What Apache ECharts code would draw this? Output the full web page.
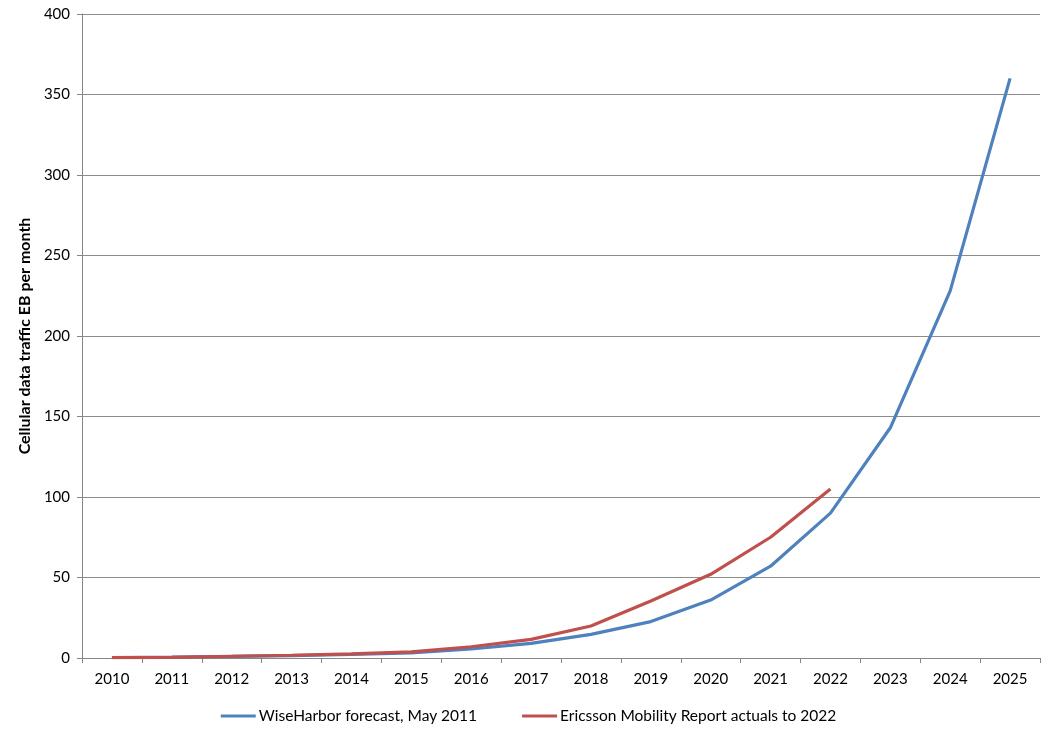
<!DOCTYPE html>
<html>
<head>
<meta charset="utf-8">
<script src="https://cdn.jsdelivr.net/npm/echarts@6/dist/echarts.min.js"></script>
<style>
html,body{margin:0;padding:0;background:#fff;}
#c{width:1057px;height:742px;}
</style>
</head>
<body>
<div id="c"></div>
<script>
const years = ['2010','2011','2012','2013','2014','2015','2016','2017','2018','2019','2020','2021','2022','2023','2024','2025'];
const wiseHarbor = [0.3, 0.6, 1.0, 1.5, 2.2, 3.2, 5.6, 9.1, 14.7, 22.6, 36, 57, 90, 143, 228, 360];
const ericsson = [0.2, 0.4, 1.1, 1.7, 2.6, 3.8, 7.0, 11.6, 19.9, 35.4, 52, 75, 105];
const yTicks = {min: 0, max: 400, interval: 50};
const seriesNames = ['WiseHarbor forecast, May 2011', 'Ericsson Mobility Report actuals to 2022'];

const font = 'Lato, Carlito, "Open Sans", sans-serif';
const chart = echarts.init(document.getElementById('c'));
chart.setOption({
  animation: false,
  backgroundColor: '#fff',
  textStyle: {fontFamily: font},
  grid: {left: 82, right: 17, top: 14, bottom: 84, containLabel: false},
  legend: {
    bottom: 13,
    left: 'center',
    itemWidth: 35,
    itemHeight: 3,
    itemGap: 45,
    icon: 'rect',
    textStyle: {fontFamily: font, fontSize: 15.5, color: '#000', padding: [0,0,0,-2]},
    data: seriesNames
  },
  xAxis: {
    type: 'category',
    data: years,
    boundaryGap: true,
    axisLine: {lineStyle: {color: '#868686', width: 1}},
    axisTick: {show: true, length: 5, lineStyle: {color: '#868686'}},
    axisLabel: {color: '#000', fontSize: 15, margin: 14, fontFamily: font},
    splitLine: {show: false}
  },
  yAxis: {
    type: 'value',
    min: yTicks.min, max: yTicks.max, interval: yTicks.interval,
    name: 'Cellular data traffic EB per month',
    nameLocation: 'middle',
    nameGap: 48,
    nameTextStyle: {fontWeight: 'bold', fontSize: 16, color: '#000', fontFamily: font},
    axisLine: {show: true, lineStyle: {color: '#868686', width: 1}},
    axisTick: {show: true, length: 5, lineStyle: {color: '#868686'}},
    axisLabel: {color: '#000', fontSize: 15, margin: 12, fontFamily: font},
    splitLine: {show: true, lineStyle: {color: '#8c8c8c', width: 1}}
  },
  series: [
    {
      name: seriesNames[0], type: 'line', data: wiseHarbor,
      symbol: 'none', color: '#4F81BD',
      lineStyle: {width: 3.2, color: '#4F81BD'}, z: 2
    },
    {
      name: seriesNames[1], type: 'line', data: ericsson,
      symbol: 'none', color: '#C0504D',
      lineStyle: {width: 3.2, color: '#C0504D'}, z: 3
    }
  ]
});
</script>
</body>
</html>
